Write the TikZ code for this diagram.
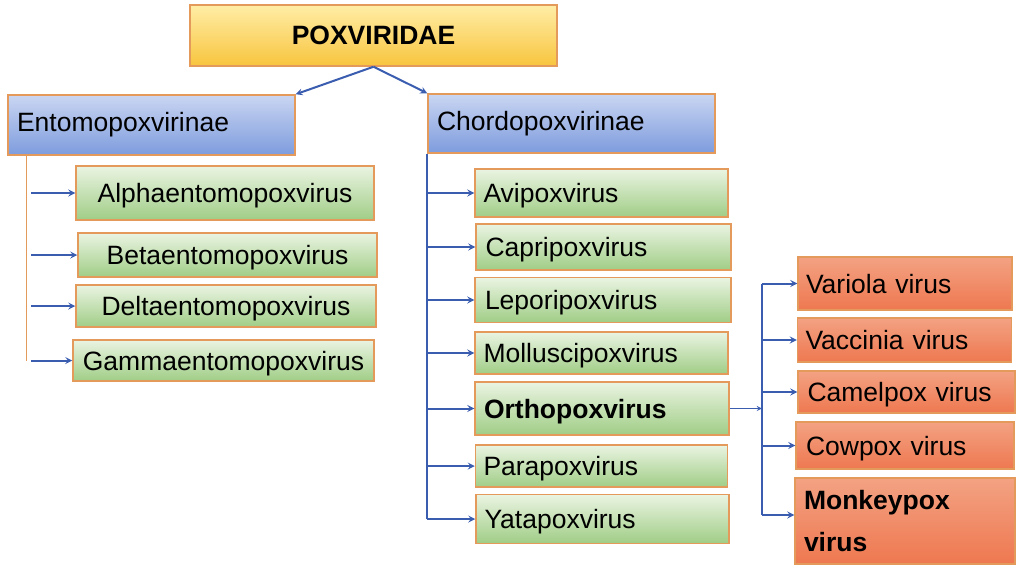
\documentclass[tikz,border=0pt]{standalone}
\usepackage{fontspec}
\setmainfont{Liberation Sans}
\usetikzlibrary{positioning}

\definecolor{rimorange}{HTML}{E39A5A}
\definecolor{arrblue}{HTML}{3A5DB0}
\definecolor{yeltop}{HTML}{FFEDA6}
\definecolor{yelbot}{HTML}{F8C53E}
\definecolor{bluetop}{HTML}{CAD6F2}
\definecolor{bluebot}{HTML}{7D9BDD}
\definecolor{greentop}{HTML}{EAF4E2}
\definecolor{greenbot}{HTML}{A0CD86}
\definecolor{redtop}{HTML}{F3A283}
\definecolor{redbot}{HTML}{EE7850}

\begin{document}
\begin{tikzpicture}
	[	x=1pt,y=-1pt,				% 1 единица = 1 пиксель, ось y вниз
		font=\fontsize{26.5}{42}\selectfont,
		box/.style={draw=rimorange,line width=1.5pt,rectangle,inner xsep=8pt,inner ysep=2pt},
		yellowbox/.style={box,top color=yeltop,bottom color=yelbot},
		bluebox/.style={box,top color=bluetop,bottom color=bluebot},
		greenbox/.style={box,text depth=0pt,top color=greentop,bottom color=greenbot},
		redbox/.style={box,text depth=0pt,top color=redtop,bottom color=redbot},
		arr/.style={arrblue,line width=2pt,->,>=stealth},
		trunk/.style={arrblue,line width=2pt}	]
	\useasboundingbox (0,0) rectangle (1024,572);		% поля как у оригинала
	% верхний уровень
	\node[yellowbox,minimum width=367,minimum height=61] (top) at (373.5,35.5) {\bfseries POXVIRIDAE};
	\node[bluebox,minimum width=287,minimum height=60,text width=269,align=left] (ento) at (151.5,125) {Entomopoxvirinae};
	\node[bluebox,minimum width=287,minimum height=59,text width=269,align=left] (chordo) at (571.5,123.5) {Chordopoxvirinae};
	\draw[arr] (top.south) -- (ento.north east);
	\draw[arr] (top.south) -- (chordo.north west);
	% Entomopoxvirinae
	\node[greenbox,minimum width=298,minimum height=54] (alpha) at (225,193) {Alphaentomopoxvirus};
	\node[greenbox,minimum width=299,minimum height=44] (beta) at (227.5,255) {Betaentomopoxvirus};
	\node[greenbox,minimum width=300,minimum height=42] (delta) at (226,306) {Deltaentomopoxvirus};
	\node[greenbox,minimum width=301,minimum height=41] (gamma) at (223.5,360.5) {Gammaentomopoxvirus};
	\coordinate (entosplit) at ([xshift=19pt]ento.south west);
	\draw[rimorange,line width=1.5pt] (entosplit) -- (entosplit |- gamma.west);		% ствол
	\foreach \n in {alpha,beta,delta,gamma}
		\draw[arr] ([xshift=5pt]entosplit |- \n.west) -- (\n.west);
	% Chordopoxvirinae
	\node[greenbox,minimum width=253,minimum height=48,text width=236,align=left] (avi) at (601.5,193) {Avipoxvirus};
	\node[greenbox,minimum width=255,minimum height=46,text width=236,align=left] (capri) at (603.5,247) {Capripoxvirus};
	\node[greenbox,minimum width=256,minimum height=45,text width=236,align=left] (lepori) at (603,300) {Leporipoxvirus};
	\node[greenbox,minimum width=253,minimum height=42,text width=236,align=left] (mollusc) at (601.5,353) {Molluscipoxvirus};
	\node[greenbox,minimum width=254,minimum height=53,text width=236,align=left] (ortho) at (602,408.5) {\bfseries Orthopoxvirus};
	\node[greenbox,minimum width=251,minimum height=42,text width=236,align=left] (para) at (601.5,466) {Parapoxvirus};
	\node[greenbox,minimum width=253,minimum height=49,text width=236,align=left] (yata) at (602.5,519) {Yatapoxvirus};
	\draw[trunk] (chordo.south west) -- (chordo.south west |- yata.west);		% ствол
	\foreach \n in {avi,capri,lepori,mollusc,ortho,para,yata}
		\draw[arr] (chordo.south west |- \n.west) -- (\n.west);
	% Orthopoxvirus
	\node[redbox,minimum width=214,minimum height=53,text width=198,align=left] (variola) at (905,283.5) {Variola virus};
	\node[redbox,minimum width=213,minimum height=44,text width=198,align=left] (vaccinia) at (904.5,340) {Vaccinia virus};
	\node[redbox,minimum width=217,minimum height=42,text width=198,align=left] (camel) at (906.5,392) {Camelpox virus};
	\node[redbox,minimum width=218,minimum height=47,text width=198,align=left] (cow) at (905,445.5) {Cowpox virus};
	\node[redbox,text depth=,minimum width=220,minimum height=86,text width=202,align=left] (monkey) at (905,521) {\bfseries Monkeypox\\ \bfseries virus};
	\coordinate (orthosplit) at ([xshift=32pt]ortho.east);
	\draw[arrblue,line width=1.2pt,->,>=stealth] (ortho.east) -- (orthosplit);
	\draw[trunk] (orthosplit |- variola.west) -- ([yshift=6pt]orthosplit |- monkey.west);		% ствол
	\foreach \n in {variola,vaccinia,camel,cow}
		\draw[arr] (orthosplit |- \n.west) -- (\n.west);
	\draw[arr] ([yshift=6pt]orthosplit |- monkey.west) -- ([yshift=6pt]monkey.west);
\end{tikzpicture}
\end{document}
